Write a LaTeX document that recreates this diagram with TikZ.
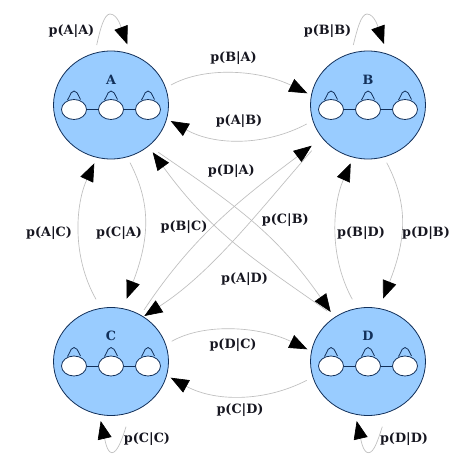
\documentclass[tikz,border=0pt]{standalone}
\usepackage{fontspec}
\setmainfont{DejaVu Serif}
\usetikzlibrary{arrows.meta,shapes.geometric}
\definecolor{fillblue}{HTML}{99CCFF}
\definecolor{navy}{HTML}{12305A}
\definecolor{wire}{HTML}{BEBEBE}
\definecolor{ink}{HTML}{161620}
\tikzset{
  statebig/.style={ellipse,draw=navy,line width=0.8pt,fill=fillblue,minimum width=115pt,minimum height=108pt,inner sep=0pt},
  statemini/.style={ellipse,draw=navy,line width=0.8pt,fill=white,minimum width=25pt,minimum height=20pt,inner sep=0pt},
  statename/.style={text=navy,font=\bfseries\fontsize{12.8}{13}\selectfont,inner sep=0pt},
  problabel/.style={text=ink,font=\bfseries\fontsize{12.8}{14}\selectfont,inner sep=0pt},
  trans/.style={draw=wire,line width=0.65pt,-{Triangle[length=18pt,width=14pt,color=black]}},
  innerwire/.style={draw=navy,line width=0.8pt},
}
\begin{document}
\begin{tikzpicture}[x=1pt,y=-1pt]
\useasboundingbox (0,0) rectangle (474,476);
\fill[white] (0,0) rectangle (474,476);
\foreach \n/\x/\y in {A/111/105,B/368/105,C/111/361.5,D/368/361.5}{
  \node[statebig] (\n) at (\x,\y) {};
  \node[statename] (\n name) at (\x,\y-25.5) {\n};
  \foreach \m/\dx in {1/-37,2/0,3/37}{
    \draw[innerwire] (\x+\dx-6.5,\y-5) .. controls (\x+\dx-2.5,\y-12) and (\x+\dx-3,\y-14) .. (\x+\dx,\y-14)
       .. controls (\x+\dx+3,\y-14) and (\x+\dx+3,\y-12) .. (\x+\dx+6.5,\y-5.5);
    \node[statemini] (\n\m) at (\x+\dx,\y+4.5) {};
  }
  \draw[innerwire] (\n1) -- (\n2);
  \draw[innerwire] (\n2) -- (\n3);
}
% self loops
\draw[trans] ([shift={(-14.3,-60)}]A.center) .. controls (100,30) and (104,14) .. (110,14) .. controls (118,14) and (122,30) .. ([shift={(16.3,-60.7)}]A.center);
\draw[trans] ([shift={(-14.7,-60)}]B.center) .. controls (357,30) and (361,14) .. (367,14) .. controls (375,14) and (379,30) .. ([shift={(16,-61)}]B.center);
\draw[trans] ([shift={(15,65.2)}]C.center) .. controls (122,440) and (117,452.7) .. (112,452.7) .. controls (107,452.7) and (105,440) .. ([shift={(-10.3,59.5)}]C.center);
\draw[trans] ([shift={(14.3,65.2)}]D.center) .. controls (378,440) and (374,452.7) .. (368.5,452.7) .. controls (363,452.7) and (361,440) .. ([shift={(-11.3,59.5)}]D.center);
% horizontal
\draw[trans] ([shift={(60,-20)}]A.center) .. controls (205,66) and (260,70) .. ([shift={(-60.7,-11.7)}]B.center);
\draw[trans] ([shift={(-61.3,19)}]B.center) .. controls (265,146) and (215,146) .. ([shift={(59.7,16)}]A.center);
\draw[trans] ([shift={(60.7,-20.2)}]C.center) .. controls (205,322.5) and (260,326.5) .. ([shift={(-60.7,-12.2)}]D.center);
\draw[trans] ([shift={(-61.3,18.8)}]D.center) .. controls (265,402) and (215,402) .. ([shift={(59.7,16.2)}]C.center);
% vertical
\draw[trans] ([shift={(-15,-62.2)}]C.center) .. controls (71,255) and (76,203) .. ([shift={(-16.7,58.3)}]A.center);
\draw[trans] ([shift={(19,57.7)}]A.center) .. controls (152,205) and (149,240) .. ([shift={(15.7,-62.8)}]C.center);
\draw[trans] ([shift={(-15.7,-62.2)}]D.center) .. controls (328,255) and (333,203) .. ([shift={(-17.3,58.3)}]B.center);
\draw[trans] ([shift={(18.7,57.7)}]B.center) .. controls (409,205) and (406,240) .. ([shift={(15,-62.8)}]D.center);
% diagonals
\draw[trans] ([shift={(47.3,47.3)}]A.center) .. controls (235,205) and (275,232) .. ([shift={(-37.3,-49.5)}]D.center);
\draw[trans] ([shift={(-40.7,-50.5)}]D.center) .. controls (255,260) and (212,234) .. ([shift={(41.7,47.3)}]A.center);
\draw[trans] ([shift={(33,-51.5)}]C.center) .. controls (195,233) and (245,196) .. ([shift={(-56.3,40.7)}]B.center);
\draw[trans] ([shift={(-56.3,45.7)}]B.center) .. controls (262,207) and (213,272) .. ([shift={(33.3,-45.5)}]C.center);
% labels
\foreach \nm/\t/\x/\y in {
 aa/{p(A|A)}/71.5/31, ba/{p(B|A)}/233.5/58, ab/{p(A|B)}/239/121, bb/{p(B|B)}/327.6/31,
 da/{p(D|A)}/231.3/171, bc/{p(B|C)}/184/226.7, cb/{p(C|B)}/285.3/220,
 ac/{p(A|C)}/49/233, ca/{p(C|A)}/119/233, bd/{p(B|D)}/361/233, db/{p(D|B)}/426/233,
 ad/{p(A|D)}/244.5/279, dc/{p(D|C)}/233/345.3, cd/{p(C|D)}/240/410,
 cc/{p(C|C)}/147/439.3, dd/{p(D|D)}/404/439.3}{
  \node[problabel] (l\nm) at (\x,\y) {\t};
}
\end{tikzpicture}
\end{document}
